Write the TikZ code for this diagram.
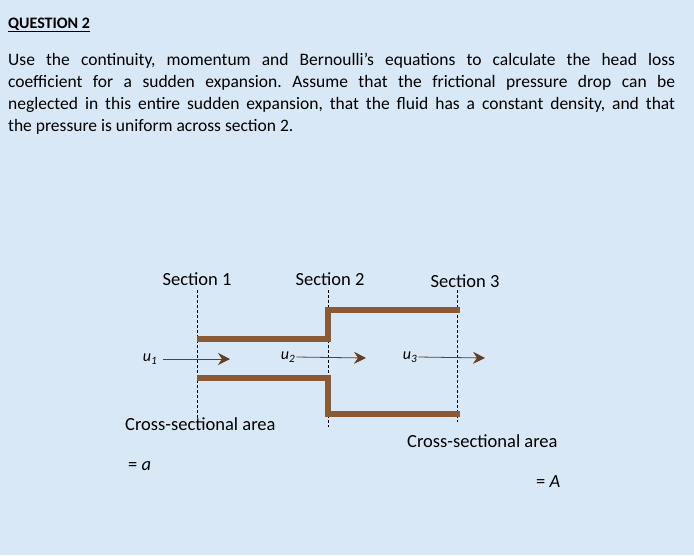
\documentclass[tikz,border=0pt]{standalone}
\usepackage{fontspec}
\usetikzlibrary{arrows.meta}
\setmainfont{Carlito}
\frenchspacing
\definecolor{bg}{HTML}{D9E8F6}
\definecolor{pipe}{HTML}{8A5A34}
\begin{document}
\begin{tikzpicture}[x=1pt,y=-1pt,
  wall/.style={pipe,line width=6pt},
  sect/.style={line width=0.6pt,dash pattern=on 3pt off 2pt},
  flow/.style={line width=0.8pt,-{Stealth[length=12pt,width=12pt,inset=4pt]},pipe!70!black},
  lbl/.style={font=\fontsize{18.5}{20}\selectfont,inner sep=0pt}]
\fill[bg] (0,0) rectangle (694,555);
\useasboundingbox (0,0) rectangle (694,555);
\node[anchor=west,inner sep=0pt,font=\fontsize{16}{18}\selectfont\bfseries] (q) at (8,25) {\underline{QUESTION 2}};
\node[anchor=north west,inner sep=0pt,text width=667pt,align=justify,font=\fontsize{17.5}{22}\selectfont] (p) at (8,53)
 {\hyphenpenalty=10000 Use the continuity, momentum and Bernoulli's equations to calculate the head loss\linebreak coefficient for a sudden expansion. Assume that the frictional pressure drop can be\linebreak neglected in this entire sudden expansion, that the fluid has a constant density, and that\linebreak the pressure is uniform across section 2.};
\node[lbl] (s1) at (197,279) {Section 1};
\node[lbl] (s2) at (330,279) {Section 2};
\node[lbl] (s3) at (465,281) {Section 3};
\coordinate (d1) at (197,420); \coordinate (d2) at (328,427); \coordinate (d3) at (457,422);
\draw[sect] (197,290) -- (d1);
\draw[sect] (328,290) -- (d2);
\draw[sect] (457,290) -- (d3);
\draw[wall] (197,339) -- (330,339);
\draw[wall] (197,378) -- (330,378);
\draw[wall,line cap=rect] (328,339) -- (328,310) -- (457,310);
\draw[wall,line cap=rect] (328,378) -- (328,414) -- (457,414);
\node[lbl,font=\fontsize{16}{17}\selectfont\itshape] (u1) at (150,359) {u\textsubscript{1}};
\node[lbl,font=\fontsize{16}{17}\selectfont\itshape] (u2) at (288,357) {u\textsubscript{2}};
\node[lbl,font=\fontsize{16}{17}\selectfont\itshape] (u3) at (410,357) {u\textsubscript{3}};
\coordinate (a1) at (230,359); \coordinate (a2) at (366,358); \coordinate (a3) at (485,358);
\draw[flow] (u1.east) ++(6,0) -- (a1);
\draw[flow] (u2.east) ++(1,0) -- (a2);
\draw[flow] (u3.east) ++(1,0) -- (a3);
\node[lbl,anchor=west] (c1) at (125,424) {Cross-sectional area};
\node[lbl,anchor=west] (e1) at (128,466) {= \textit{a}};
\node[lbl,anchor=west] (c2) at (407,441) {Cross-sectional area};
\node[lbl,anchor=west] (e2) at (536,482) {= \textit{A}};
\end{tikzpicture}
\end{document}
